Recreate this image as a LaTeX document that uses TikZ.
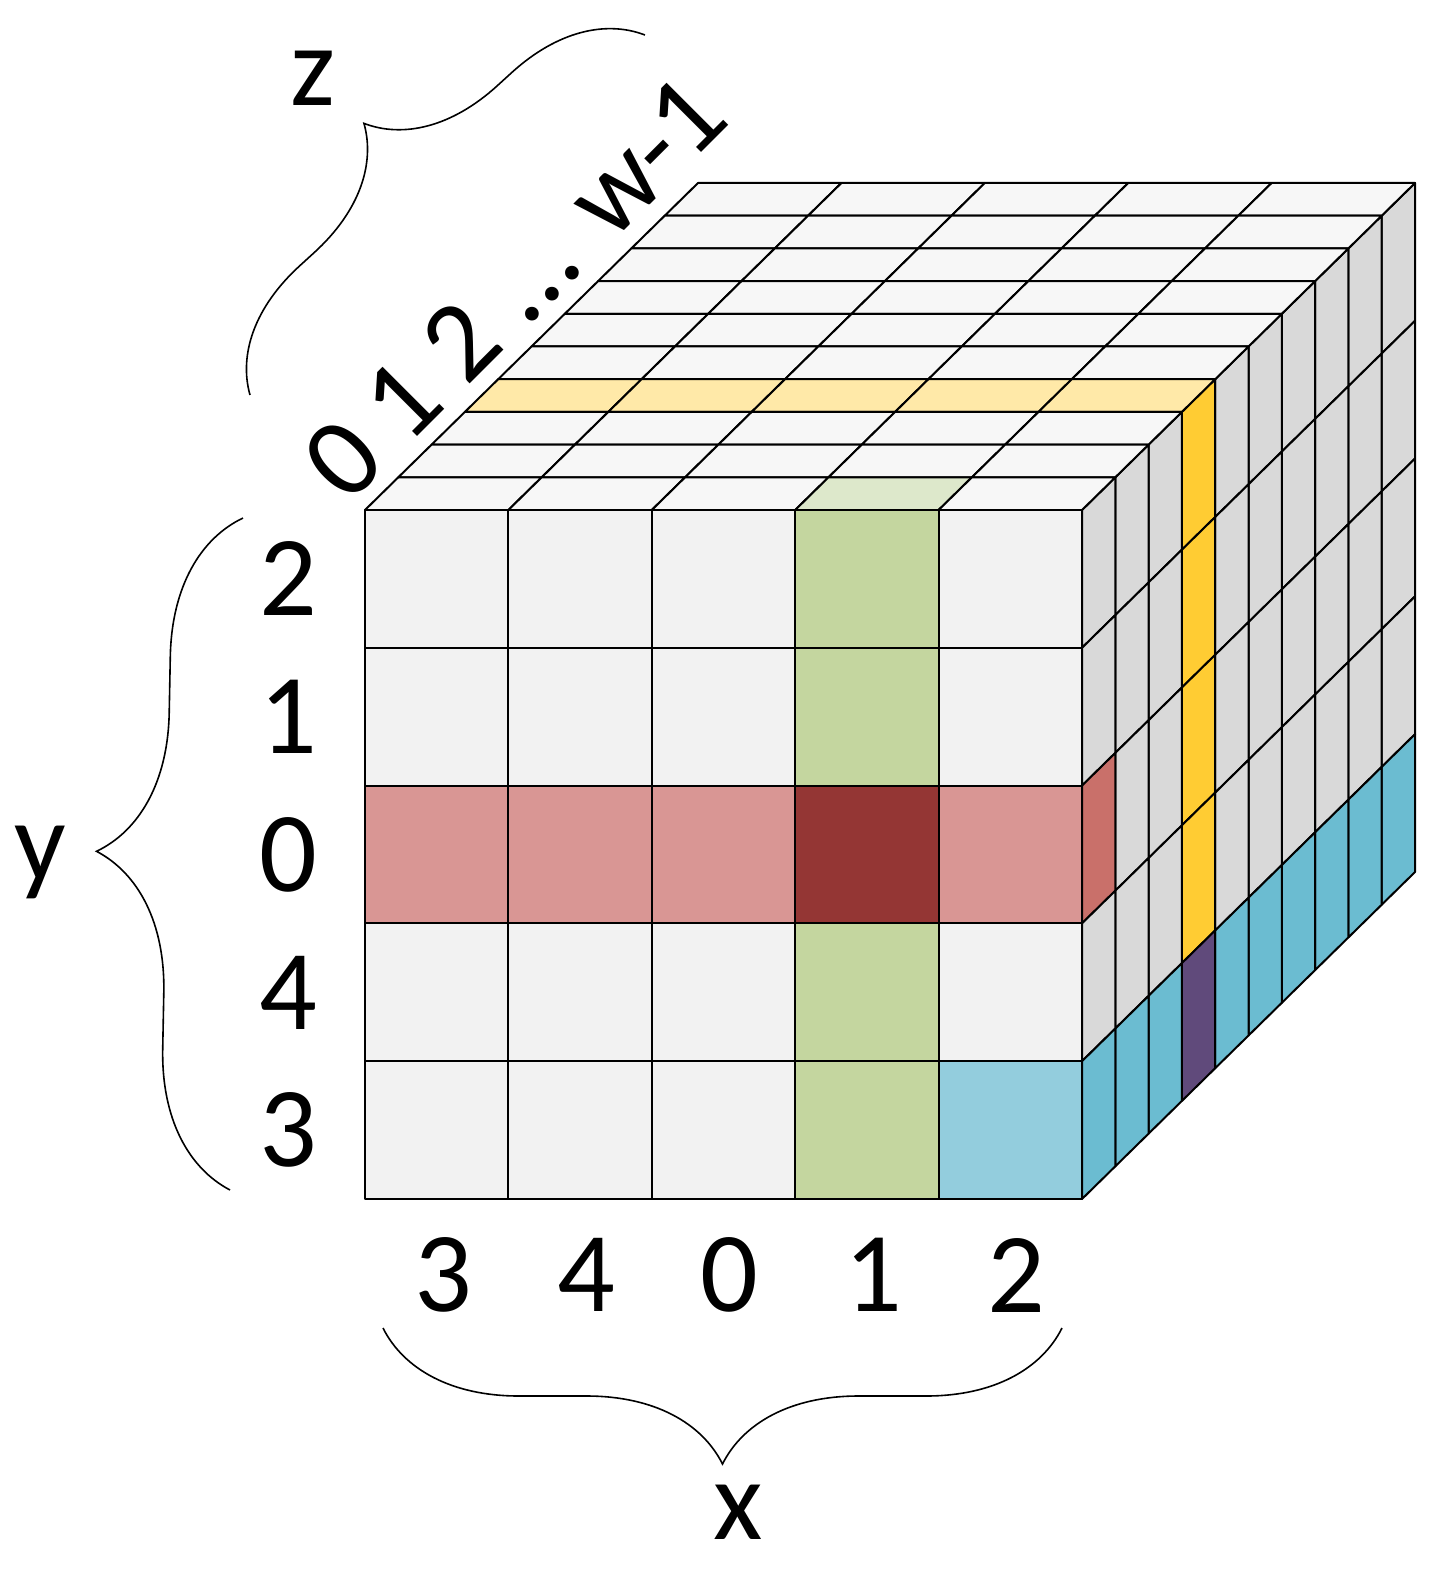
\documentclass[tikz,border=0pt]{standalone}
\usepackage{fontspec}
\setmainfont{Carlito}
\usetikzlibrary{decorations.pathreplacing}
\definecolor{frontc}{HTML}{F2F2F2}
\definecolor{topc}{HTML}{F7F7F7}
\definecolor{sidec}{HTML}{D9D9D9}
\definecolor{greenf}{HTML}{C4D69F}
\definecolor{greent}{HTML}{DDE8CB}
\definecolor{redf}{HTML}{D99694}
\definecolor{redd}{HTML}{943634}
\definecolor{reds}{HTML}{C9706A}
\definecolor{yelt}{HTML}{FFE9A8}
\definecolor{yels}{HTML}{FFCC33}
\definecolor{purp}{HTML}{604A7B}
\definecolor{blues}{HTML}{6BBCD1}
\definecolor{bluef}{HTML}{93CDDD}
\tikzset{cell/.style={draw=black,line width=1pt,line join=round},
 lab/.style={font=\fontsize{57}{60}\selectfont,inner sep=0pt},
 brc/.style={draw=black,line width=0.8pt,decorate}}
\begin{document}
\begin{tikzpicture}[x=0.5pt,y=-0.5pt]
\useasboundingbox (0,0) rectangle (1435,1572);
\def\W{143.4}\def\H{137.8}\def\dx{33.3}\def\dy{-32.7}
% right face
\foreach \k in {9,8,...,0}{
 \foreach \j in {0,...,4}{
  \def\col{sidec}
  \ifnum\j=4 \def\col{blues}\fi
  \ifnum\k=3 \ifnum\j<4 \def\col{yels}\else\def\col{purp}\fi\fi
  \ifnum\k=0 \ifnum\j=2 \def\col{reds}\fi\fi
  \fill[\col] (1082+\k*\dx,510+\j*\H+\k*\dy) -- ++(\dx,\dy) -- ++(0,\H) -- ++(-\dx,-\dy) -- cycle;
  \draw[cell] (1082+\k*\dx,510+\j*\H+\k*\dy) -- ++(\dx,\dy) -- ++(0,\H) -- ++(-\dx,-\dy) -- cycle;
 }}
% top face
\foreach \k in {9,8,...,0}{
 \foreach \i in {0,...,4}{
  \def\col{topc}
  \ifnum\k=3 \def\col{yelt}\fi
  \ifnum\k=0 \ifnum\i=3 \def\col{greent}\fi\fi
  \fill[\col] (365+\i*\W+\k*\dx,510+\k*\dy) -- ++(\W,0) -- ++(\dx,\dy) -- ++(-\W,0) -- cycle;
  \draw[cell] (365+\i*\W+\k*\dx,510+\k*\dy) -- ++(\W,0) -- ++(\dx,\dy) -- ++(-\W,0) -- cycle;
 }}
% front face
\foreach \i in {0,...,4}{
 \foreach \j in {0,...,4}{
  \def\col{frontc}
  \ifnum\i=3 \def\col{greenf}\fi
  \ifnum\j=2 \ifnum\i=3 \def\col{redd}\else\def\col{redf}\fi\fi
  \ifnum\j=4 \ifnum\i=4 \def\col{bluef}\fi\fi
  \fill[\col] (365+\i*\W,510+\j*\H) rectangle ++(\W,\H);
  \draw[cell] (365+\i*\W,510+\j*\H) rectangle ++(\W,\H);
 }}
% labels
\foreach \t [count=\n from 0] in {2,1,0,4,3}
  \node[lab] (yl\n) at (288,579+\n*\H) {\t};
\foreach \t [count=\n from 0] in {3,4,0,1,2}
  \node[lab] (xl\n) at (443+\n*\W,1275) {\t};
\node[lab,rotate=45] (zl) at (515,288) {0 1 2 ... w-1};
\node[lab] (yn) at (40,862) {y};
\node[lab] (xn) at (738,1512) {x};
\node[lab] (zn) at (313,78) {z};
% braces
\coordinate (yb1) at (230,1190); \coordinate (yb2) at (243,518);
\draw[brc,decoration={brace,amplitude=70pt}] (yb1) -- (yb2);
\coordinate (xb1) at (1062,1328); \coordinate (xb2) at (383,1328);
\draw[brc,decoration={brace,amplitude=68pt}] (xb1) -- (xb2);
\coordinate (zb1) at (250,395); \coordinate (zb2) at (645,35);
\draw[brc,decoration={brace,amplitude=62pt}] (zb1) -- (zb2);
\end{tikzpicture}
\end{document}
